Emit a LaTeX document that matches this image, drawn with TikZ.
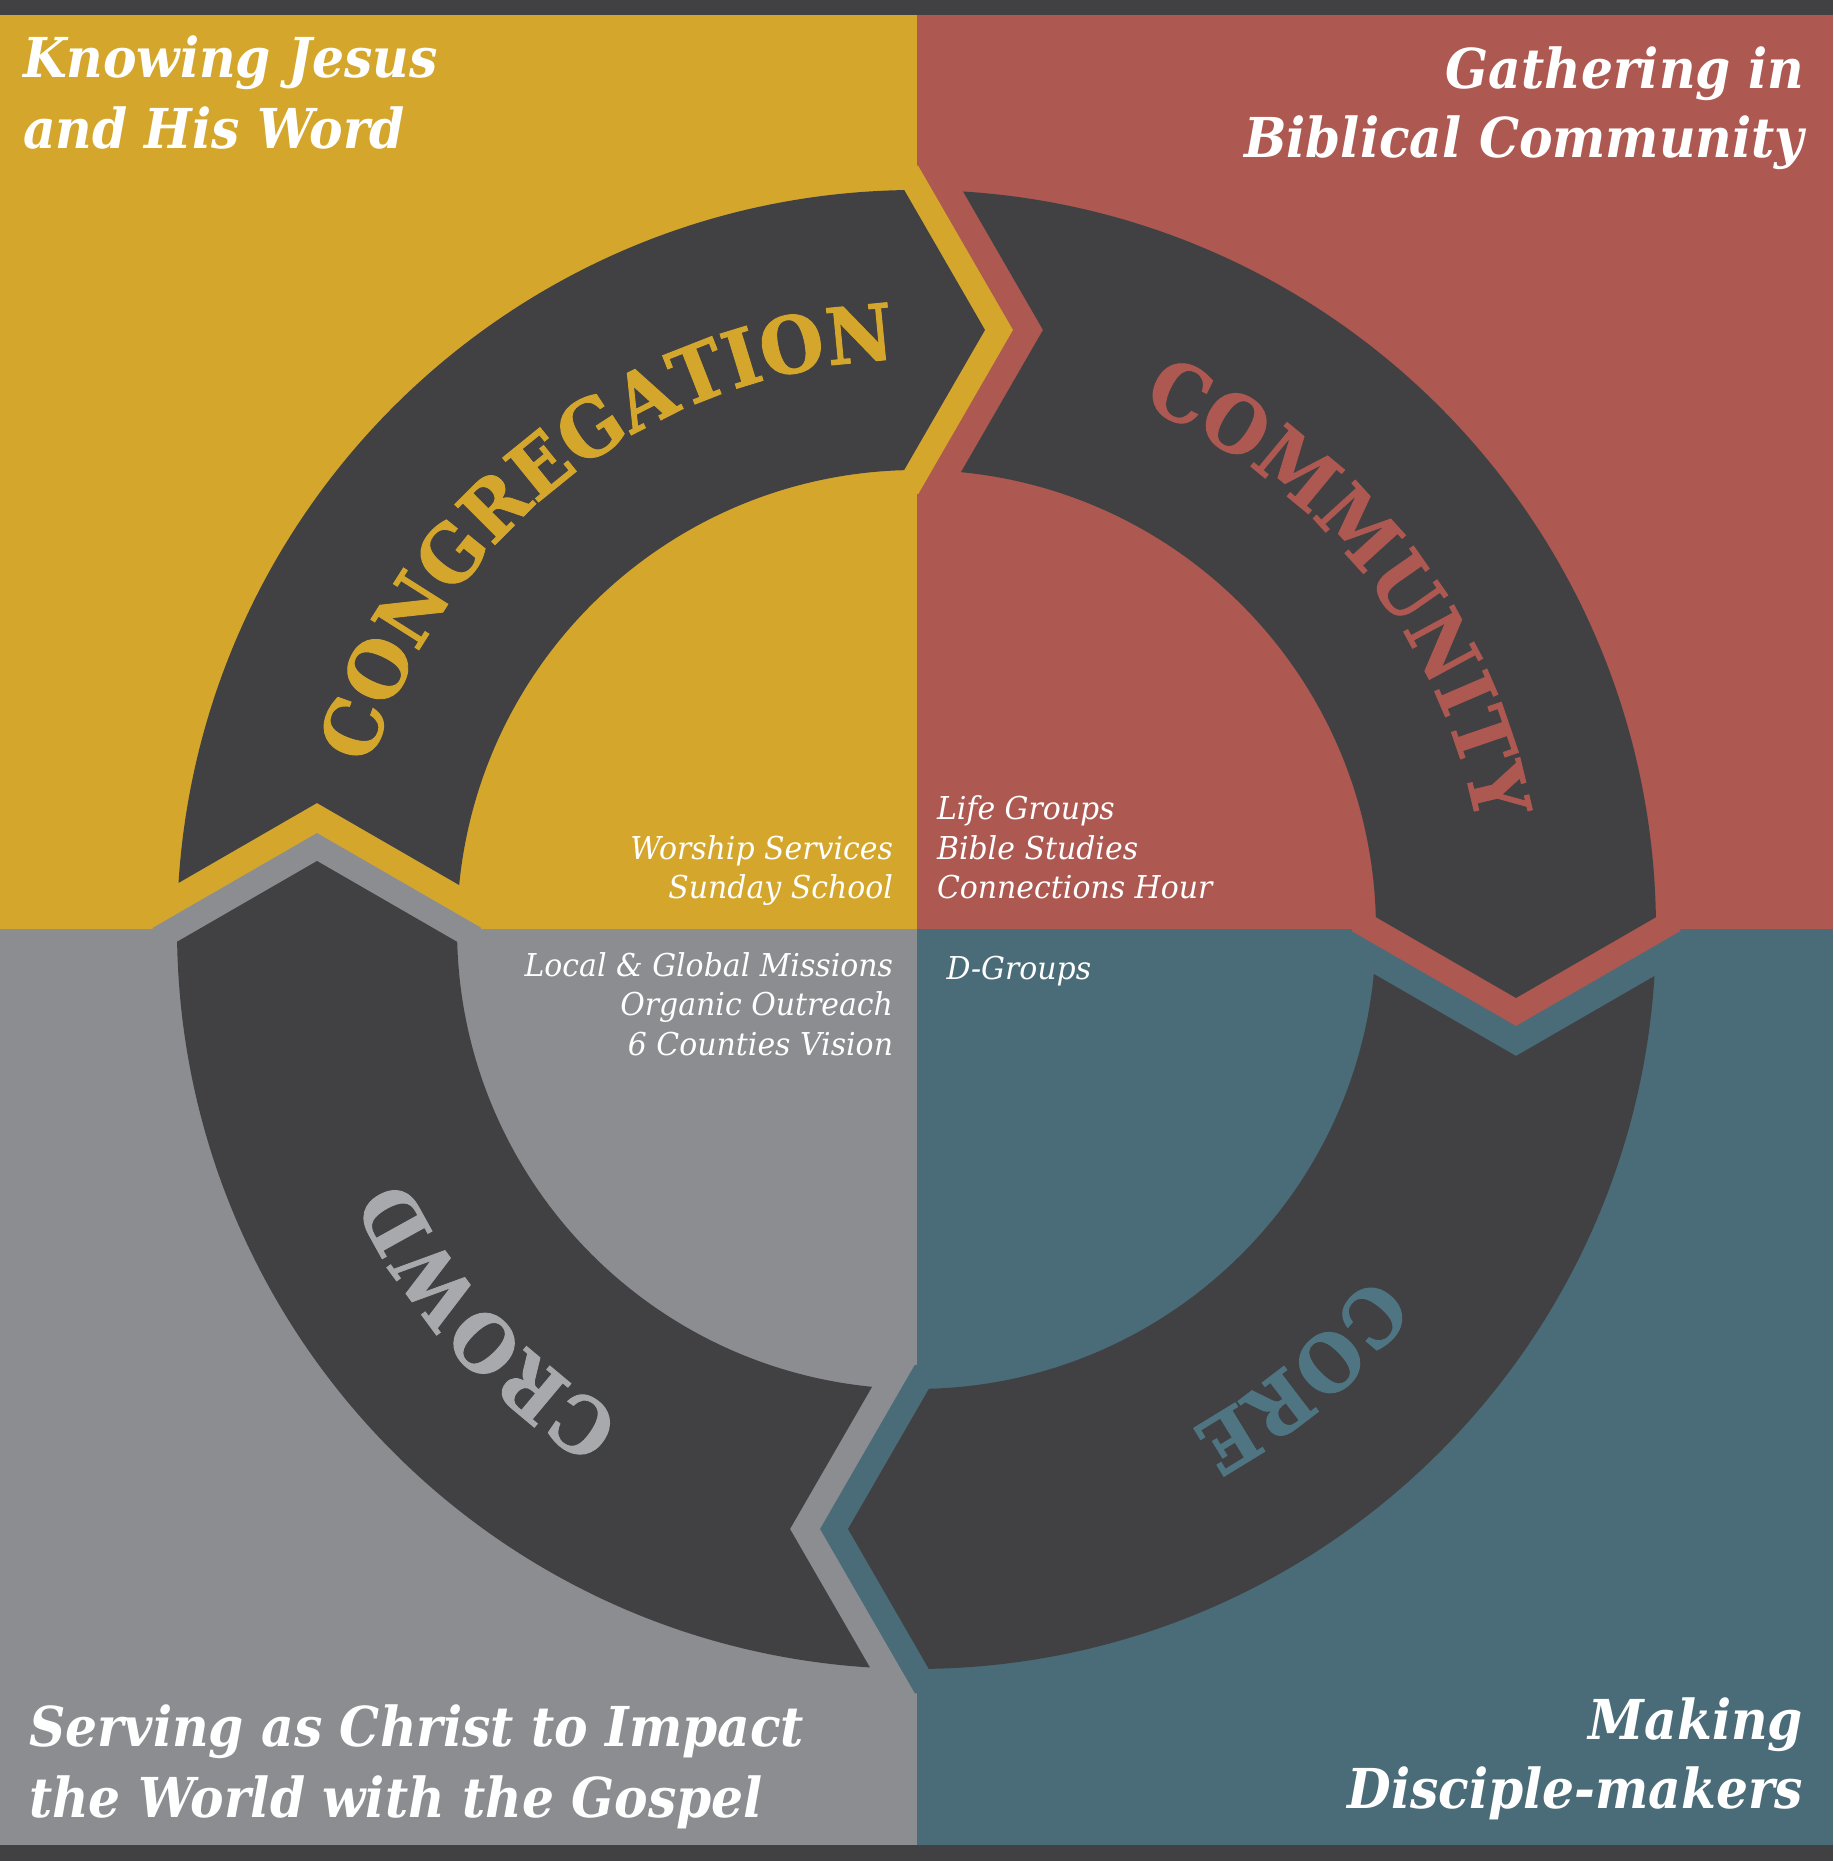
\documentclass[tikz,border=0pt]{standalone}
\usepackage{fontspec}
\usetikzlibrary{decorations.text}
\newfontfamily\titlefont[FakeStretch=0.915]{DejaVu Serif}
\newfontfamily\smallfont[FakeStretch=0.95]{DejaVu Serif}
\newfontfamily\ringfamily[FakeStretch=0.94, BoldFeatures={FakeBold=1.2}]{DejaVu Serif}
\definecolor{cgold}{HTML}{D4A72C}
\definecolor{cred}{HTML}{AD5851}
\definecolor{cgrey}{HTML}{8C8D91}
\definecolor{cteal}{HTML}{4A6C78}
\definecolor{cdark}{HTML}{414144}
\definecolor{ccrowd}{HTML}{A7A9AC}
\definecolor{ccore}{HTML}{4F7583}
\newcommand\ringtext{\ringfamily\bfseries\fontsize{39pt}{39pt}\selectfont}
\begin{document}
\begin{tikzpicture}[x=0.5pt,y=0.5pt,
  title/.style={font=\titlefont\bfseries\itshape\fontsize{27.5pt}{33pt}\selectfont, text=white, inner sep=0pt, outer sep=0pt},
  small/.style={font=\smallfont\itshape\fontsize{15.75pt}{19pt}\selectfont, text=white, inner sep=0pt, outer sep=0pt},
  rimline/.style={line width=24.2pt, line join=miter},
]
\useasboundingbox (0,0) rectangle (1833,1861);
% quadrants
\fill[cgold] (0,931.5) rectangle (916.5,1861);
\fill[cred] (916.5,931.5) rectangle (1833,1861);
\fill[cgrey] (0,0) rectangle (916.5,931.5);
\fill[cteal] (916.5,0) rectangle (1833,931.5);
% bars
\fill[cdark] (0,1846) rectangle (1833,1861);
\fill[cdark] (0,0) rectangle (1833,16);
% ring arrows
\foreach \k/\col in {0/cgold,1/cred,2/cteal,3/cgrey}{
  \begin{scope}[shift={(916.5,931.5)}, rotate=-90*\k]
    \draw[rimline, \col] (176.39:739.5) arc[start angle=176.39, end angle=90.95, radius=739.5] -- (68.5,599.5) -- (91.55:459.5) arc[start angle=91.55, end angle=174.45, radius=459.5] -- (-599.5,126.5) -- cycle;
    \fill[cdark] (176.39:739.5) arc[start angle=176.39, end angle=90.95, radius=739.5] -- (68.5,599.5) -- (91.55:459.5) arc[start angle=91.55, end angle=174.45, radius=459.5] -- (-599.5,126.5) -- cycle;
  \end{scope}
}
% ring labels
\path[decorate, decoration={text along path, text align=center, text color=cgold, text={|\ringtext|CONGREGATION}}]
  (916.5,931.5) ++(197.7:570) arc[start angle=197.7, end angle=57.7, radius=570];
\path[decorate, decoration={text along path, text align=center, text color=cred, text={|\ringtext|COMMUNITY}}]
  (916.5,931.5) ++(108.8:570) arc[start angle=108.8, end angle=-31.2, radius=570];
\path[decorate, decoration={text along path, text align=center, text color=ccore, text={|\ringtext|CORE}}]
  (916.5,931.5) ++(20.7:570) arc[start angle=20.7, end angle=-119.3, radius=570];
\path[decorate, decoration={text along path, text align=center, text color=ccrowd, text={|\ringtext|CROWD}}]
  (916.5,931.5) ++(292.4:570) arc[start angle=292.4, end angle=152.4, radius=570];
% titles
\node[title, anchor=base west] (t1a) at (23,1783) {Knowing Jesus};
\node[title, anchor=base west] (t1b) at (23,1712) {and His Word};
\node[title, anchor=base east] (t2a) at (1804,1772) {Gathering in};
\node[title, anchor=base east] (t2b) at (1804,1703.5) {Biblical Community};
\node[title, anchor=base west] (t3a) at (29,114) {Serving as Christ to Impact};
\node[title, anchor=base west] (t3b) at (29,43) {the World with the Gospel};
\node[title, anchor=base east] (t4a) at (1803,121) {Making};
\node[title, anchor=base east] (t4b) at (1803,52) {Disciple-makers};
% inner texts
\node[small, anchor=base east] (w1) at (893,1001) {Worship Services};
\node[small, anchor=base east] (w2) at (893,962.5) {Sunday School};
\node[small, anchor=base west] (l1) at (937,1041) {Life Groups};
\node[small, anchor=base west] (l2) at (937,1001) {Bible Studies};
\node[small, anchor=base west] (l3) at (937,962.5) {Connections Hour};
\node[small, anchor=base east] (m1) at (893,884) {Local \& Global Missions};
\node[small, anchor=base east] (m2) at (893,845) {Organic Outreach};
\node[small, anchor=base east] (m3) at (893,805.5) {6 Counties Vision};
\node[small, anchor=base west] (d1) at (946.5,881) {D-Groups};
\end{tikzpicture}
\end{document}
